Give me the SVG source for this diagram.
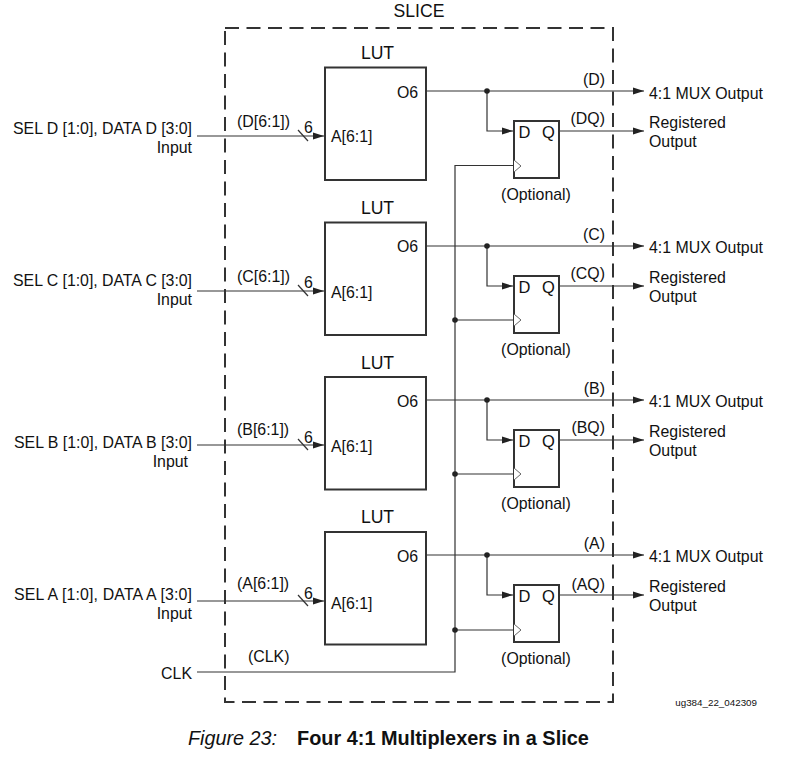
<svg xmlns="http://www.w3.org/2000/svg" width="790" height="758" viewBox="0 0 790 758">
<defs>
<marker id="arr" markerUnits="userSpaceOnUse" markerWidth="11" markerHeight="8" refX="11" refY="4" orient="auto"><path d="M0,0.5 L11,4 L0,7.5 Z" fill="#222"/></marker>
</defs>
<style>
text{font-family:"Liberation Sans",Arial,sans-serif;font-size:15.9px;fill:#111}
.m{text-anchor:middle}.e{text-anchor:end}
.big{font-size:17.6px}
.ff{font-size:16.500px}
.box{fill:#fff;stroke:#333;stroke-width:2}
.w{fill:none;stroke:#333;stroke-width:1.2}
.a{marker-end:url(#arr)}
.clk{fill:#fff;stroke:#666;stroke-width:1}
.dot{fill:#222}
</style>
<rect width="790" height="758" fill="#fff"/>
<g id="slice">
<rect x="225" y="28" width="388" height="674" fill="none" stroke="#333" stroke-width="2" stroke-dasharray="14 7.5"/>
<text x="419" y="17" class="m big">SLICE</text>
</g>
<g id="connectors">
<path class="w a" d="M197 136H324"/><path class="w" d="M298 130L308 141"/>
<path class="w a" d="M197 291H324"/><path class="w" d="M298 285L308 296"/>
<path class="w a" d="M197 445H324"/><path class="w" d="M298 439L308 450"/>
<path class="w a" d="M197 601H324"/><path class="w" d="M298 595L308 606"/>
<path class="w a" d="M426 91H644"/><path class="w a" d="M487 91V131H513"/><path class="w a" d="M559 131H644"/>
<path class="w a" d="M426 246H644"/><path class="w a" d="M487 246V286H513"/><path class="w a" d="M559 286H644"/>
<path class="w a" d="M426 400H644"/><path class="w a" d="M487 400V440H513"/><path class="w a" d="M559 440H644"/>
<path class="w a" d="M426 555H644"/><path class="w a" d="M487 555V595H513"/><path class="w a" d="M559 595H644"/>
<path class="w" d="M197 672H455V165.500H514M455 320H514M455 474H514M455 630H514"/>
<circle class="dot" cx="487" cy="91" r="2.800"/><circle class="dot" cx="487" cy="246" r="2.800"/><circle class="dot" cx="487" cy="400" r="2.800"/><circle class="dot" cx="487" cy="555" r="2.800"/>
<circle class="dot" cx="455" cy="320" r="2.800"/><circle class="dot" cx="455" cy="474" r="2.800"/><circle class="dot" cx="455" cy="630" r="2.800"/>
</g>
<g id="lut-d"><rect class="box" x="325" y="67.500" width="101" height="112.500"/><text x="377.500" y="58.500" class="m big">LUT</text><text x="397" y="98">O6</text><text x="331" y="142">A[6:1]</text></g>
<g id="lut-c"><rect class="box" x="325" y="222.500" width="101" height="112.500"/><text x="377.500" y="214" class="m big">LUT</text><text x="397" y="252">O6</text><text x="331" y="298">A[6:1]</text></g>
<g id="lut-b"><rect class="box" x="325" y="377" width="101" height="112.500"/><text x="377.500" y="369" class="m big">LUT</text><text x="397" y="407">O6</text><text x="331" y="452">A[6:1]</text></g>
<g id="lut-a"><rect class="box" x="325" y="532" width="101" height="112.500"/><text x="377.500" y="523" class="m big">LUT</text><text x="397" y="562">O6</text><text x="331" y="609">A[6:1]</text></g>
<g id="ff-d"><rect class="box" x="514" y="121" width="45" height="57"/><path class="clk" d="M514 160L521 166L514 172"/><text x="518.500" y="138" class="ff">D</text><text x="542" y="138" class="ff">Q</text><text x="536" y="200" class="m">(Optional)</text></g>
<g id="ff-c"><rect class="box" x="514" y="276" width="45" height="57"/><path class="clk" d="M514 314L521 320L514 326"/><text x="518.500" y="293" class="ff">D</text><text x="542" y="293" class="ff">Q</text><text x="536" y="355" class="m">(Optional)</text></g>
<g id="ff-b"><rect class="box" x="514" y="430" width="45" height="57"/><path class="clk" d="M514 468L521 474L514 480"/><text x="518.500" y="447" class="ff">D</text><text x="542" y="447" class="ff">Q</text><text x="536" y="509" class="m">(Optional)</text></g>
<g id="ff-a"><rect class="box" x="514" y="585" width="45" height="57"/><path class="clk" d="M514 624L521 630L514 636"/><text x="518.500" y="602" class="ff">D</text><text x="542" y="602" class="ff">Q</text><text x="536" y="664" class="m">(Optional)</text></g>
<g id="inputs">
<text x="13" y="134" textLength="179">SEL D [1:0], DATA D [3:0]</text><text x="192" y="153" class="e">Input</text>
<text x="13" y="286" textLength="179">SEL C [1:0], DATA C [3:0]</text><text x="192" y="305" class="e">Input</text>
<text x="14" y="448" textLength="178">SEL B [1:0], DATA B [3:0]</text><text x="188" y="467" class="e">Input</text>
<text x="14" y="600" textLength="178">SEL A [1:0], DATA A [3:0]</text><text x="192" y="619" class="e">Input</text>
<text x="192" y="679" class="e">CLK</text>
</g>
<g id="signal-labels">
<text x="237" y="127">(D[6:1])</text><text x="304" y="133">6</text>
<text x="237" y="282">(C[6:1])</text><text x="304" y="288">6</text>
<text x="237" y="435">(B[6:1])</text><text x="304" y="443">6</text>
<text x="237" y="589">(A[6:1])</text><text x="304" y="599">6</text>
<text x="248" y="662">(CLK)</text>
<text x="605" y="85" class="e">(D)</text><text x="605" y="124" class="e">(DQ)</text>
<text x="605" y="240" class="e">(C)</text><text x="605" y="279" class="e">(CQ)</text>
<text x="605" y="394" class="e">(B)</text><text x="605" y="433" class="e">(BQ)</text>
<text x="605" y="549" class="e">(A)</text><text x="605" y="590" class="e">(AQ)</text>
</g>
<g id="outputs">
<text x="649" y="98.500">4:1 MUX Output</text><text x="649" y="128">Registered</text><text x="649" y="147">Output</text>
<text x="649" y="253">4:1 MUX Output</text><text x="649" y="283">Registered</text><text x="649" y="302">Output</text>
<text x="649" y="407">4:1 MUX Output</text><text x="649" y="437">Registered</text><text x="649" y="456">Output</text>
<text x="649" y="562">4:1 MUX Output</text><text x="649" y="592">Registered</text><text x="649" y="611">Output</text>
</g>
<g id="caption">
<text x="757" y="706" class="e" style="font-size:9.800px">ug384_22_042309</text>
<text x="188" y="745" style="font-size:19.800px;font-style:italic">Figure 23:</text>
<text x="297" y="745" style="font-size:19.900px;font-weight:bold">Four 4:1 Multiplexers in a Slice</text>
</g>
</svg>
